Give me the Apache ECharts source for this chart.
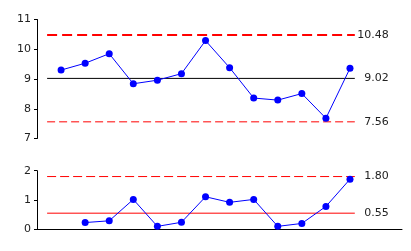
<!DOCTYPE html>
<html><head><meta charset="utf-8">
<script src="https://cdn.jsdelivr.net/npm/echarts@6/dist/echarts.min.js"></script>
<style>html,body{margin:0;padding:0;background:#fff}#c{width:411px;height:251px}</style>
</head><body><div id="c"></div>
<script>
// Sample numbers (x positions)
var samples = [1,2,3,4,5,6,7,8,9,10,11,12,13];
// Individual values
var xValues = [9.30,9.53,9.85,8.84,8.96,9.18,10.29,9.38,8.36,8.29,8.51,7.68,9.36];
// Moving ranges (start at sample 2)
var mrSamples = [2,3,4,5,6,7,8,9,10,11,12,13];
var mrValues = [0.23,0.29,1.02,0.10,0.24,1.11,0.92,1.02,0.10,0.20,0.78,1.71];
// Control limits
var xUCL = 10.48, xCL = 9.02, xLCL = 7.56;
var mrUCL = 1.80, mrCL = 0.55;
// Tick labels
var xTicks = [7,8,9,10,11];
var mrTicks = [0,1,2];
var lineSpan = [0.42, 13.2];

var FONT = 'DejaVu Sans';
function pairs(xs, ys){ return xs.map(function(x,i){return [x, ys[i]];}); }
function limit(v, gi, color, width, type){
  return {
    type:'line', xAxisIndex:gi, yAxisIndex:gi, symbol:'none', silent:true,
    data:[[lineSpan[0], v],[lineSpan[1], v]],
    lineStyle:{color:color, width:width, type:type},
    endLabel:{show:true, distance:4, formatter:function(){return '{a|'+v.toFixed(2)+'}';},
      rich:{a:{width:30, align:'right', fontFamily:FONT, fontSize:11, color:'#222'}}},
    z:1
  };
}
var chart = echarts.init(document.getElementById('c'));
var yBase = {
  type:'value',
  axisLine:{show:true, lineStyle:{color:'#000', width:1}},
  axisTick:{show:true, length:3, lineStyle:{color:'#000'}},
  splitLine:{show:false},
  axisLabel:{fontFamily:FONT, fontSize:11, color:'#222', margin:6}
};
chart.setOption({
  animation:false,
  grid:[
    {left:37, right:9, top:19.5, bottom:112.5},
    {left:37, right:9, top:170.7, bottom:21.7}
  ],
  xAxis:[
    {type:'value', gridIndex:0, min:0, max:15.16, show:false},
    {type:'value', gridIndex:1, min:0, max:15.16,
      axisLine:{show:true, onZero:false, lineStyle:{color:'#000', width:1}},
      axisTick:{show:false}, axisLabel:{show:false}, splitLine:{show:false}}
  ],
  yAxis:[
    Object.assign({}, yBase, {gridIndex:0, min:xTicks[0], max:xTicks[xTicks.length-1], interval:1}),
    Object.assign({}, yBase, {gridIndex:1, min:mrTicks[0], max:mrTicks[mrTicks.length-1], interval:1})
  ],
  series:[
    limit(xUCL, 0, '#ff0000', 2, [10,5]),
    limit(xCL, 0, '#000000', 1, 'solid'),
    limit(xLCL, 0, '#ff0000', 1, [8,4]),
    limit(mrUCL, 1, '#ff0000', 1, [9,4]),
    limit(mrCL, 1, '#ff0000', 1, 'solid'),
    {type:'line', xAxisIndex:0, yAxisIndex:0, data:pairs(samples, xValues),
      symbol:'circle', symbolSize:7, itemStyle:{color:'#0000ff'},
      lineStyle:{color:'#0000ff', width:1}, z:3},
    {type:'line', xAxisIndex:1, yAxisIndex:1, data:pairs(mrSamples, mrValues),
      symbol:'circle', symbolSize:7, itemStyle:{color:'#0000ff'},
      lineStyle:{color:'#0000ff', width:1}, z:3}
  ]
});
</script></body></html>
